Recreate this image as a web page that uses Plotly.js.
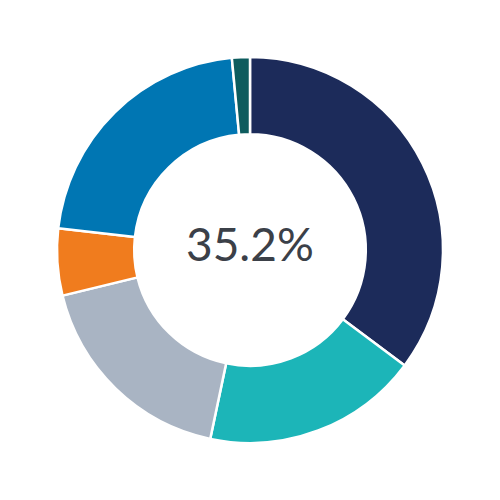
<!DOCTYPE html>
<html>
<head>
<meta charset="utf-8">
<script src="https://cdn.plot.ly/plotly-3.0.1.min.js"></script>
<style>
  html, body { margin: 0; padding: 0; background: #fff; }
  #chart { width: 500px; height: 500px; }
</style>
</head>
<body>
<div id="chart"></div>
<script>
// slice shares, clockwise from 12 o'clock
var labels = ["A", "B", "C", "D", "E", "F"];
var shares = [35.2, 18.1, 17.9, 5.6, 21.7, 1.5];
var sliceColors = ["#1c2b5a", "#1cb5b8", "#a9b4c3", "#f07c1e", "#0076b3", "#0d5c5e"];
var centerLabel = "35.2%";

var data = [{
    type: "pie",
    labels: labels,
    values: shares,
    hole: 0.6,
    sort: false,
    direction: "clockwise",
    rotation: 0,
    textinfo: "none",
    hoverinfo: "label+percent",
    marker: {
        colors: sliceColors,
        line: { color: "#ffffff", width: 2.5 }
    }
}];

var layout = {
    width: 500,
    height: 500,
    margin: { l: 57, r: 57, t: 57, b: 57 },
    showlegend: false,
    paper_bgcolor: "#ffffff",
    annotations: [{
        text: centerLabel,
        x: 0.5, y: 0.517,
        xref: "paper", yref: "paper",
        showarrow: false,
        font: { family: "Lato", size: 46, color: "#3b4048" }
    }]
};

Plotly.newPlot("chart", data, layout, { displayModeBar: false, staticPlot: true });
</script>
</body>
</html>
